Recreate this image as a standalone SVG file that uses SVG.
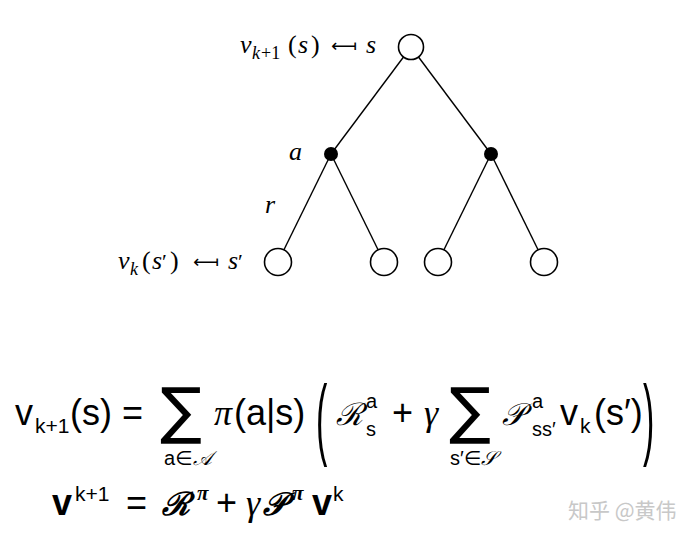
<svg xmlns="http://www.w3.org/2000/svg" width="693" height="538" viewBox="0 0 693 538">
<style>
.st{fill:#fff;stroke:#000;stroke-width:1.6}
.act{fill:#000}
.ln{stroke:#000;stroke-width:1.4;fill:none}
.tm{font-family:"Liberation Serif","DejaVu Serif",serif;font-style:italic;fill:#000}
.tr{font-family:"Liberation Serif","DejaVu Serif",serif;fill:#000}
.ar{font-family:"DejaVu Sans",sans-serif;fill:#000}
.eq{font-family:"Liberation Sans","DejaVu Sans",sans-serif;fill:#000}
.eqs{font-family:"DejaVu Sans",sans-serif;fill:#000}
.eqi{font-family:"Liberation Serif","DejaVu Serif",serif;font-style:italic;fill:#000}
.eqc{font-family:"DejaVu Serif",serif;font-style:italic;fill:#000}
.wm{font-family:"Noto Sans CJK SC","Noto Sans",sans-serif;fill:#c8c8c8}
</style>
<rect width="693" height="538" fill="#fff"/>
<g id="connectors">
<line class="ln" x1="403.5" y1="57" x2="331" y2="154"/>
<line class="ln" x1="418.5" y1="57" x2="491" y2="154"/>
<line class="ln" x1="331" y1="154" x2="283.7" y2="250.3"/>
<line class="ln" x1="331" y1="154" x2="378.3" y2="250.3"/>
<line class="ln" x1="491" y1="154" x2="443.7" y2="250.3"/>
<line class="ln" x1="491" y1="154" x2="538.3" y2="250.3"/>
</g>
<g id="root"><circle class="st" cx="411" cy="47" r="12.5"/></g>
<g id="action1"><circle class="act" cx="331" cy="154" r="7"/></g>
<g id="action2"><circle class="act" cx="491" cy="154" r="7"/></g>
<g id="leaf1"><circle class="st" cx="278" cy="262" r="13.5"/></g>
<g id="leaf2"><circle class="st" cx="384" cy="262" r="13.5"/></g>
<g id="leaf3"><circle class="st" cx="438" cy="262" r="13.5"/></g>
<g id="leaf4"><circle class="st" cx="544" cy="262" r="13.5"/></g>
<g id="labels">
<text class="tm" x="240" y="53" font-size="26">v</text>
<text class="tm" x="252" y="59" font-size="18">k</text>
<text class="tr" x="261" y="59" font-size="18">+1</text>
<text class="tr" x="288" y="53" font-size="26">(</text>
<text class="tm" x="298" y="53" font-size="26">s</text>
<text class="tr" x="311" y="53" font-size="26">)</text>
<text class="ar" x="331" y="52" font-size="18">⟻</text>
<text class="tm" x="366" y="53" font-size="26">s</text>
<text class="tm" x="289" y="160" font-size="26">a</text>
<text class="tm" x="265" y="213" font-size="26">r</text>
<text class="tm" x="118" y="269" font-size="26">v</text>
<text class="tm" x="130" y="275" font-size="18">k</text>
<text class="tr" x="142" y="269" font-size="26">(</text>
<text class="tm" x="152" y="269" font-size="26">s</text>
<text class="tr" x="162" y="269" font-size="22">′</text>
<text class="tr" x="170" y="269" font-size="26">)</text>
<text class="ar" x="193" y="268" font-size="18">⟻</text>
<text class="tm" x="228" y="269" font-size="26">s</text>
<text class="tr" x="238" y="269" font-size="22">′</text>
</g>
<g id="equation1">
<text class="eq" x="15" y="425" font-size="36">v</text>
<text class="eq" x="35" y="433" font-size="21">k+1</text>
<text class="eq" x="70" y="425" font-size="36">(s)</text>
<text class="eq" x="122" y="425" font-size="36">=</text>
<text class="eqs" x="160" y="432" font-size="62">∑</text>
<text class="eq" x="164" y="465" font-size="20">a∈<tspan class="eqc">𝒜</tspan></text>
<text class="eqi" x="214" y="425" font-size="36">π</text>
<text class="eq" x="234" y="425" font-size="36">(a|s)</text>
<text class="eq" transform="translate(316,448) scale(1,2.6)" font-size="34">(</text>
<text class="eqc" x="336" y="425" font-size="31">ℛ</text>
<text class="eq" x="366" y="408" font-size="20">a</text>
<text class="eq" x="366" y="436" font-size="20">s</text>
<text class="eq" x="392" y="425" font-size="36">+</text>
<text class="eqi" x="424" y="425" font-size="36">γ</text>
<text class="eqs" x="449" y="432" font-size="62">∑</text>
<text class="eq" x="450" y="465" font-size="20">s′∈<tspan class="eqc">𝒮</tspan></text>
<text class="eqc" x="502" y="425" font-size="31">𝒫</text>
<text class="eq" x="532" y="408" font-size="20">a</text>
<text class="eq" x="532" y="436" font-size="20">ss′</text>
<text class="eq" x="560" y="425" font-size="36">v</text>
<text class="eq" x="580" y="433" font-size="21">k</text>
<text class="eq" x="594" y="425" font-size="36">(s′)</text>
<text class="eq" transform="translate(643,448) scale(1,2.6)" font-size="34">)</text>
</g>
<g id="equation2">
<text class="eq" x="52" y="515" font-size="36" font-weight="bold">v</text>
<text class="eq" x="75" y="501" font-size="21">k+1</text>
<text class="eq" x="126" y="515" font-size="36">=</text>
<text class="eqc" x="162" y="515" font-size="32" font-weight="bold">ℛ</text>
<text class="eqi" x="197" y="500" font-size="21" font-weight="bold">π</text>
<text class="eq" x="216" y="515" font-size="36">+</text>
<text class="eqi" x="246" y="515" font-size="36">γ</text>
<text class="eqc" x="263" y="515" font-size="32" font-weight="bold">𝒫</text>
<text class="eqi" x="292" y="500" font-size="21" font-weight="bold">π</text>
<text class="eq" x="312" y="515" font-size="36" font-weight="bold">v</text>
<text class="eq" x="333" y="501" font-size="21">k</text>
</g>
<text class="wm" x="568" y="518" font-size="21">知乎 @黄伟</text>
</svg>
